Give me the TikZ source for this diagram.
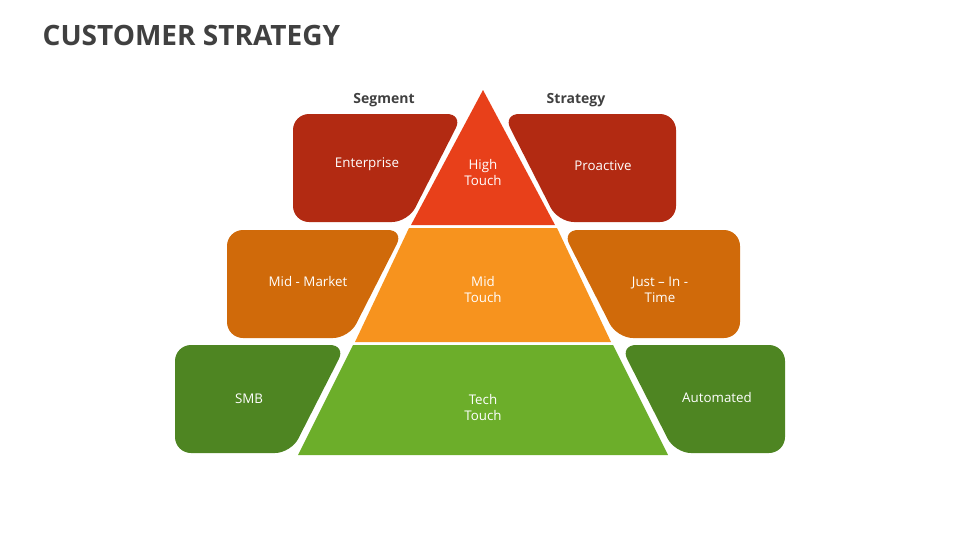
\documentclass[tikz,border=0pt]{standalone}
\usepackage{fontspec}
\setmainfont{Open Sans}
\begin{document}
\begin{tikzpicture}[x=0.75pt,y=-0.75pt,
  box/.style={rounded corners=12pt},
  tri/.style={},
  txt/.style={text=white,font=\fontsize{10}{12}\selectfont,align=center},
  hdr/.style={text=black!75,font=\fontsize{10.5}{12}\selectfont\bfseries}]
\definecolor{rD}{HTML}{B22A12}\definecolor{rT}{HTML}{E8401A}
\definecolor{oD}{HTML}{D06A0A}\definecolor{oT}{HTML}{F7931E}
\definecolor{gD}{HTML}{4E8522}\definecolor{gT}{HTML}{6CAE2A}
\useasboundingbox (0,0) rectangle (960,540);
\node[anchor=west,text=black!75,font=\fontsize{21}{24}\selectfont\bfseries] (title) at (38,35) {CUSTOMER STRATEGY};
\node[hdr] (seg) at (384,100) {Segment};
\node[hdr] (str) at (576,100) {Strategy};
% triangle tiers
\fill[rT] (483,90) -- (555,225) -- (411,225) -- cycle;
\fill[oT] (409,228) -- (557,228) -- (611,342) -- (355,342) -- cycle;
\fill[gT] (353,345) -- (613,345) -- (668,455) -- (298,455) -- cycle;
% side boxes
\fill[rD,box] (463,114) -- (408,222) -- (293,222) -- (293,114) -- cycle;
\fill[rD,box] (503,114) -- (676,114) -- (676,222) -- (558,222) -- cycle;
\fill[oD,box] (404,230) -- (349,338) -- (227,338) -- (227,230) -- cycle;
\fill[oD,box] (562,230) -- (740,230) -- (740,338) -- (617,338) -- cycle;
\fill[gD,box] (346,345) -- (291,453) -- (175,453) -- (175,345) -- cycle;
\fill[gD,box] (620,345) -- (785,345) -- (785,453) -- (675,453) -- cycle;
% texts
\node[txt] (ent) at (367,164) {Enterprise};
\node[txt] (ht) at (483,172) {High\\Touch};
\node[txt] (pro) at (603,166) {Proactive};
\node[txt] (mm) at (308,281) {Mid - Market};
\node[txt] (mt) at (483,289) {Mid\\Touch};
\node[txt] (jit) at (660,290) {Just -- In -\\Time};
\node[txt] (smb) at (249,399) {SMB};
\node[txt] (tt) at (483,407) {Tech\\Touch};
\node[txt] (aut) at (717,397) {Automated};
\end{tikzpicture}
\end{document}
